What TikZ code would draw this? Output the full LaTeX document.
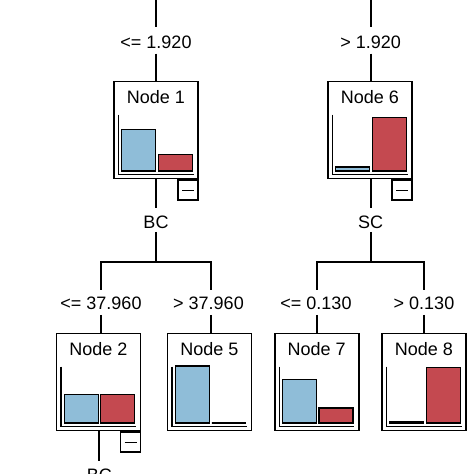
\documentclass[tikz,border=0pt]{standalone}
\usepackage{fontspec}
\setmainfont{Liberation Sans}
\definecolor{barblue}{RGB}{143,189,216}
\definecolor{barred}{RGB}{196,73,80}
\tikzset{
  treeline/.style={line width=1.8pt},
  box/.style={draw, line width=1.8pt, minimum width=84pt, minimum height=97pt, inner sep=0pt},
  minibox/.style={draw, line width=1.6pt, minimum size=20pt, inner sep=0pt, anchor=north east},
  lbl/.style={inner sep=0pt, text height=13pt, text depth=0pt, anchor=base, font=\fontsize{18}{20}\selectfont},
  ttl/.style={inner sep=0pt, anchor=base, font=\fontsize{18}{20}\selectfont},
  axisline/.style={line width=1.5pt},
  bara/.style={draw, line width=1.3pt, fill=barblue},
  barb/.style={draw, line width=1.3pt, fill=barred},
}
\newcommand{\drawpanel}[4]{%
  \node[ttl] (#1t) at ([shift={(0,22.7)}]#1.north) {#2};
  \begin{scope}[shift={(#1.north west)}]
    \draw[axisline] (5.5,34) -- (5.5,94) -- (80.5,94);
    \draw[bara] (8.7,90.5) rectangle (42.7,{90.5-#3});
    \draw[barb] (45.3,90.5) rectangle (79.3,{90.5-#4});
  \end{scope}}
\newcommand{\drawminus}[1]{%
  \node[minibox] (#1m) at (#1.south east) {};
  \draw[line width=1.2pt] ([xshift=-6pt]#1m.center) -- ([xshift=6pt]#1m.center);}
\begin{document}
\begin{tikzpicture}[x=1pt,y=-1pt]
\useasboundingbox (0,0) rectangle (474,474);
% boxes
\node[box] (n1) at (156,130) {};
\node[box] (n6) at (370,130) {};
\node[box] (n2) at (98.4,382) {};
\node[box] (n5) at (209.5,382) {};
\node[box] (n7) at (316.7,382) {};
\node[box] (n8) at (424,382) {};
\drawpanel{n1}{Node 1}{41.3}{16.3}
\drawpanel{n6}{Node 6}{4}{53.3}
\drawpanel{n2}{Node 2}{28.3}{28.3}
\drawpanel{n5}{Node 5}{57}{0}
\drawpanel{n7}{Node 7}{43.3}{15}
\drawpanel{n8}{Node 8}{1}{55.3}
\drawminus{n1}
\drawminus{n6}
\drawminus{n2}
% top labels
\coordinate (r1) at (156,0);
\coordinate (r6) at (370.7,0);
\node[lbl] (l1) at (156,48.8) {<= 1.920};
\node[lbl] (l6) at (370.7,48.8) {> 1.920};
\draw[treeline] (r1) -- ([yshift=9pt]l1.north);
\draw[treeline] ([yshift=-4.5pt]l1.south) -- (l1.south |- n1.north);
\draw[treeline] (r6) -- ([yshift=9pt]l6.north);
\draw[treeline] ([yshift=-4.5pt]l6.south) -- (l6.south |- n6.north);
% split variables
\node[lbl] (b1) at (156,228) {BC};
\node[lbl] (b6) at (370.7,228) {SC};
\draw[treeline] (n1.south) -- ([yshift=6.5pt]b1.north);
\draw[treeline] (l6.south |- n6.south) -- ([yshift=6.5pt]b6.north);
\coordinate (j1) at (156,261.7);
\coordinate (j6) at (370.7,261.7);
\draw[treeline] ([yshift=-3.7pt]b1.south) -- (j1);
\draw[treeline] ([yshift=-3.7pt]b6.south) -- (j6);
% second level labels
\node[lbl] (l2) at (101,309.7) {<= 37.960};
\node[lbl] (l5) at (208.5,309.7) {> 37.960};
\node[lbl] (l7) at (316,309.7) {<= 0.130};
\node[lbl] (l8) at (424,309.7) {> 0.130};
\coordinate (c2) at (101,261.7);
\coordinate (c5) at (210.7,261.7);
\coordinate (c7) at (317.3,261.7);
\coordinate (c8) at (424,261.7);
\draw[treeline] ([yshift=6.7pt]c2 |- l2.north) -- (c2) -- (c5) -- ([yshift=6.7pt]c5 |- l5.north);
\draw[treeline] ([yshift=6.7pt]c7 |- l7.north) -- (c7) -- (c8) -- ([yshift=6.7pt]c8 |- l8.north);
\draw[treeline] ([yshift=-5pt]c2 |- l2.south) -- (c2 |- n2.north);
\draw[treeline] ([yshift=-5pt]c5 |- l5.south) -- (c5 |- n5.north);
\draw[treeline] ([yshift=-5pt]c7 |- l7.south) -- (c7 |- n7.north);
\draw[treeline] ([yshift=-5pt]c8 |- l8.south) -- (c8 |- n8.north);
% below node 2
\node[lbl] (b2) at (99.3,481) {BC};
\draw[treeline] (b2.north |- n2.south) -- ([yshift=6.5pt]b2.north);
\end{tikzpicture}
\end{document}
